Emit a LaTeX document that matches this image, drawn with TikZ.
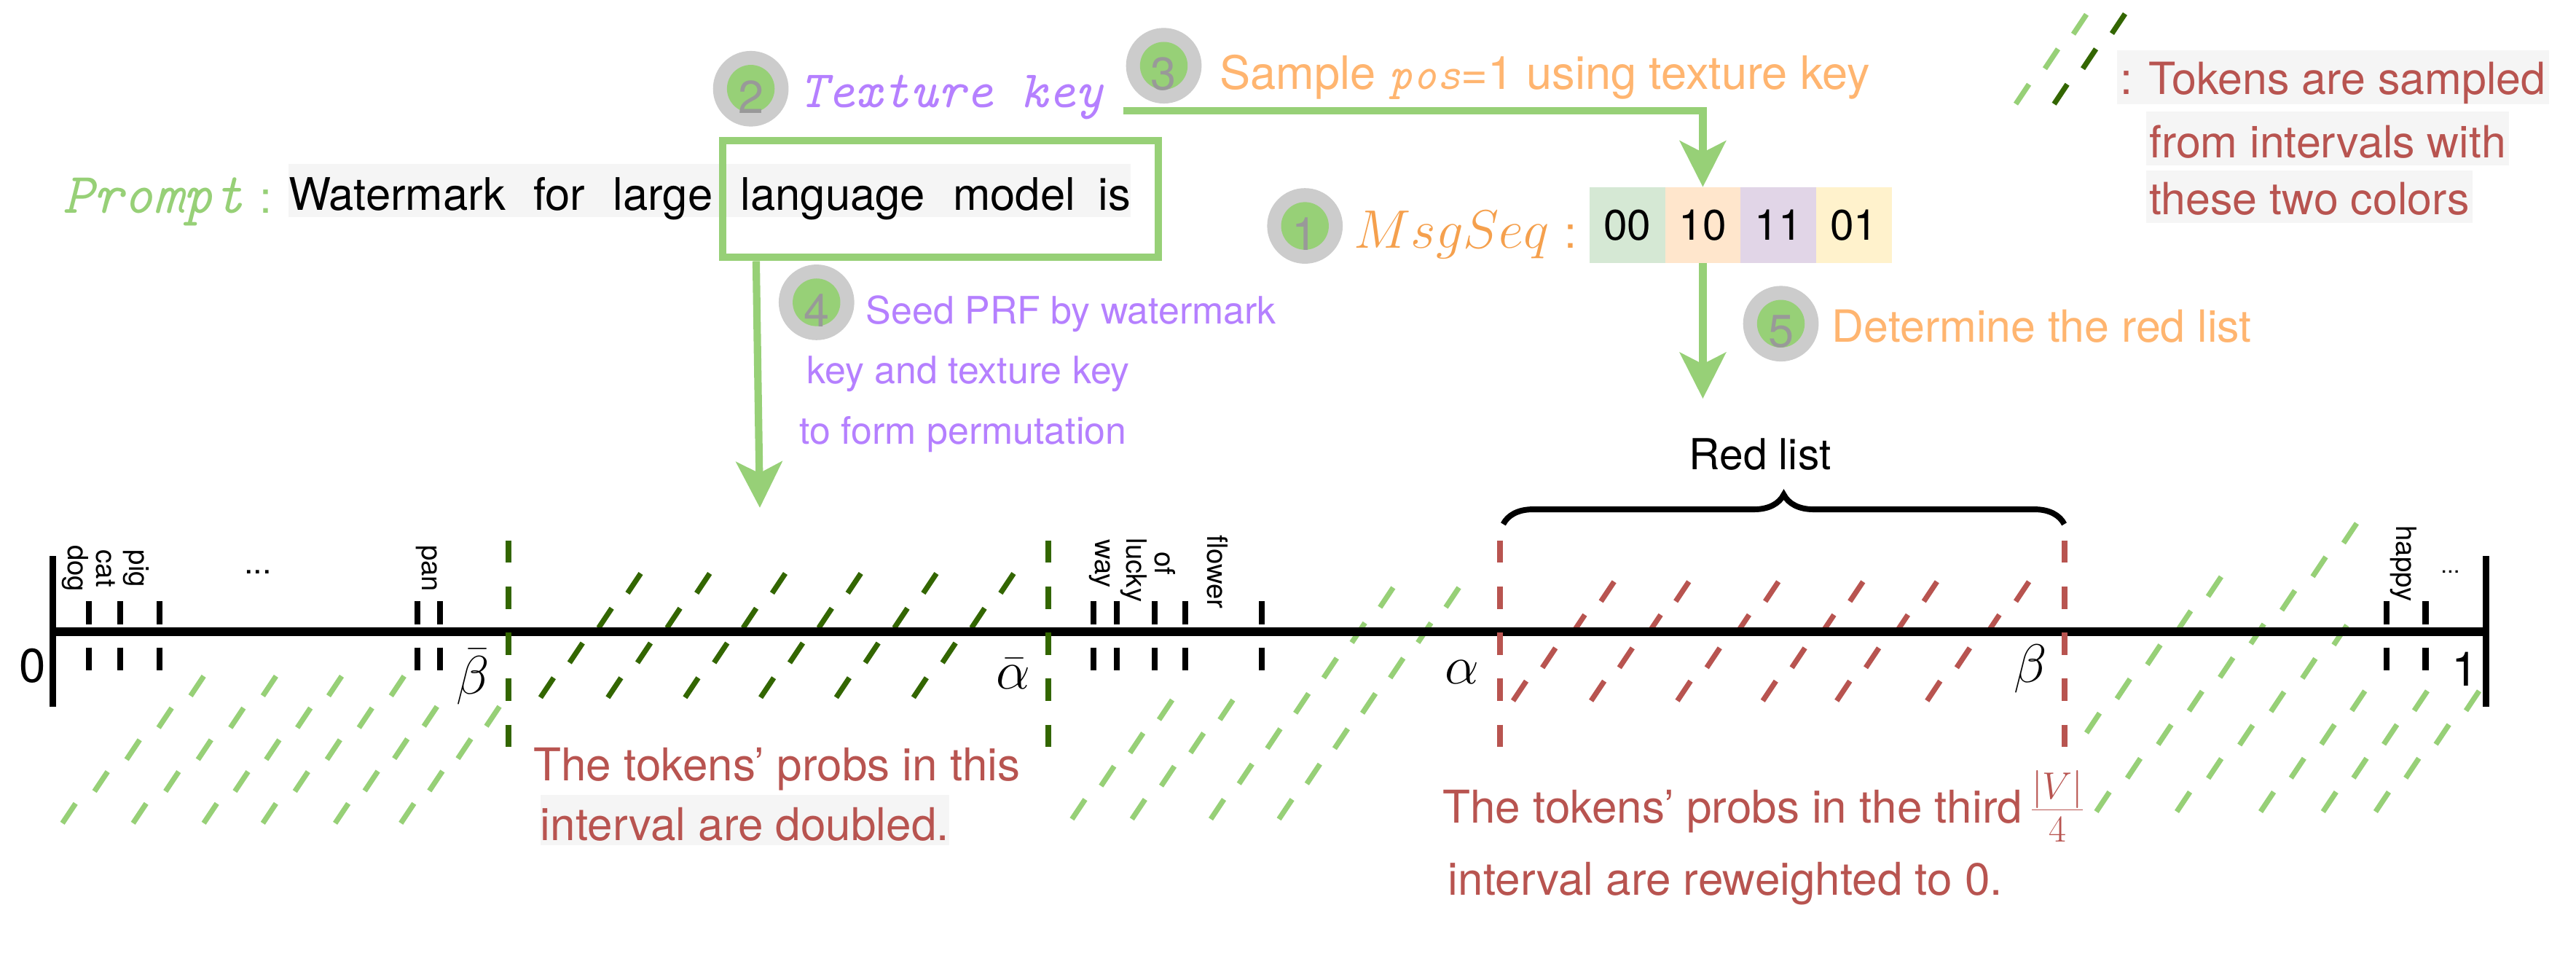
\RequirePackage{fix-cm}
\documentclass[tikz,border=0pt]{standalone}
\usepackage{fontspec}
\setmainfont{TeX Gyre Heros}
\usetikzlibrary{arrows.meta,decorations.pathreplacing,calc}
\definecolor{lgreen}{HTML}{97D077}
\definecolor{dgreen}{HTML}{336600}
\definecolor{rred}{HTML}{B85450}
\definecolor{orng}{HTML}{FFB570}
\definecolor{orngb}{HTML}{F5A04D}
\definecolor{purp}{HTML}{B580FF}
\definecolor{cgray}{HTML}{CCCCCC}
\definecolor{dgray}{HTML}{999999}
\definecolor{bggray}{HTML}{F5F5F5}
\definecolor{cza}{HTML}{D5E8D4}
\definecolor{czb}{HTML}{FFE6CC}
\definecolor{czc}{HTML}{E1D5E7}
\definecolor{czd}{HTML}{FFF2CC}
\newcommand{\fsz}[1]{\fontsize{#1}{#1}\selectfont}
\newcommand{\hatchln}[6]{%
  \foreach \k in {0,...,#6}{%
    \pgfmathsetmacro{\hatchX}{#2+(#4-#2)*\k/#6}%
    \pgfmathsetmacro{\hatchY}{#3+(#5-#3)*\k/#6}%
    \draw[hatchdash,draw=#1] (\hatchX-4,\hatchY+6) -- (\hatchX+4,\hatchY-6);
  }}
\newcommand{\stepmark}[3]{%
  \node[circle,fill=cgray,minimum size=46pt,inner sep=0pt] (#1) at (#2) {};
  \node[circle,fill=lgreen,minimum size=29pt,inner sep=0pt] (#1i) at (#1) {};
  \node[text=dgray,font=\fsz{28},inner sep=0pt] (#1n) at ($(#1)+(0,5)$) {#3};
}
\tikzset{
  hatchdash/.style={line width=3.2pt,line cap=butt},
  vdash/.style={line width=3.5pt,dash pattern=on 13.5pt off 14.5pt},
  tickmk/.style={line width=3.6pt},
  tok/.style={font=\fsz{17},inner sep=0pt,rotate=-90},
  arr/.style={draw=lgreen,line width=4.5pt,-{Stealth[length=28pt,width=28pt,inset=7pt]}},
  txt/.style={inner sep=0pt,anchor=base west},
  cell/.style={minimum width=46pt,minimum height=46pt,inner sep=0pt,font=\fsz{26}},
  greek/.style={font=\fsz{33},inner sep=0pt},
}
\begin{document}
\begin{tikzpicture}[x=1pt,y=-1pt]
\useasboundingbox (0,0) rectangle (1568,596);
\fill[white] (0,0) rectangle (1568,596);

% ---------- legend ----------
\draw[hatchdash,lgreen] (1266-4,14.8+6) -- (1266+4,14.8-6);
\draw[hatchdash,lgreen] (1248.7-4,35.8+6) -- (1248.7+4,35.8-6);
\draw[hatchdash,lgreen] (1231-4,57.3+6) -- (1231+4,57.3-6);
\draw[hatchdash,dgreen] (1289.5-4,14.4+6) -- (1289.5+4,14.4-6);
\draw[hatchdash,dgreen] (1271.8-4,35.8+6) -- (1271.8+4,35.8-6);
\draw[hatchdash,dgreen] (1254.3-4,57.3+6) -- (1254.3+4,57.3-6);
\node[txt,text=rred,font=\fsz{27},fill=bggray,inner xsep=2pt,text height=27pt,text depth=6pt] (lg1) at (1288.4,57.6) {: Tokens are sampled};
\node[txt,text=rred,font=\fsz{27},fill=bggray,inner xsep=2pt,text height=28pt,text depth=4.5pt] (lg2) at (1306,96) {from intervals with};
\node[txt,text=rred,font=\fsz{27},fill=bggray,inner xsep=2pt,text height=27pt,text depth=5pt] (lg3) at (1306,130.8) {these two colors};

% ---------- prompt ----------
\node[txt,text=lgreen,font=\fsz{35}\ttfamily\itshape] (pr) at (38,129.7) {Prompt};
\node[txt,text=lgreen,font=\fsz{27}] (prc) at (158,129.7) {:};
\node[txt,fill=bggray,font=\fsz{27.3},text height=28pt,text depth=4.5pt] (wm) at (175.4,127.8)
  {Watermark\hspace{17pt}for\hspace{17pt}large\hspace{17pt}language\hspace{17pt}model\hspace{14pt}is};
\node[draw=lgreen,line width=4.5pt,minimum width=265pt,minimum height=71pt,inner sep=0pt] (kbox) at (572.5,121.2) {};

% ---------- steps ----------
\stepmark{sc2}{457,54}{2}
\node[txt,text=purp,font=\fsz{32}\ttfamily\itshape] (tkey) at (486.6,65.5) {Texture key};
\stepmark{sc3}{708.4,40}{3}
\node[txt,text=orng,font=\fsz{28}] (s3t) at (742.3,54.5) {Sample {\ttfamily\itshape pos}=1 using texture key};
\stepmark{sc1}{794.3,137.5}{1}
\node[txt,text=orngb,font=\fsz{33}] (msg) at (824,150.8) {$MsgSeq$};
\node[txt,text=orngb,font=\fsz{27}] (msgc) at (952,150.8) {:};
\node[cell,fill=cza] (c00) at (990.5,137) {00};
\node[cell,fill=czb] (c10) at (1036.5,137) {10};
\node[cell,fill=czc] (c11) at (1082.5,137) {11};
\node[cell,fill=czd] (c01) at (1128.5,137) {01};
\stepmark{sc5}{1084,197}{5}
\node[txt,text=orng,font=\fsz{27}] (s5t) at (1115,208.4) {Determine the red list};
\stepmark{sc4}{497,184}{4}
\node[txt,text=purp,font=\fsz{23}] (s4a) at (527,197) {Seed PRF by watermark};
\node[txt,text=purp,font=\fsz{23}] (s4b) at (491,233.6) {key and texture key};
\node[txt,text=purp,font=\fsz{23}] (s4c) at (486.5,270.3) {to form permutation};

% arrows
\coordinate (hstart) at ($(tkey.base east)+(12,1.8)$);
\draw[arr] (hstart) -| (c10.north);
\coordinate (a5end) at (1036.5,242.6);
\draw[arr] (c10.south) -- (a5end);
\coordinate (a4start) at ($(kbox.south west)+(22.5,0)$);
\coordinate (a4end) at (462.5,309);
\draw[arr] (a4start) -- (a4end);

\node[txt,font=\fsz{26}] (rl) at (1028,286) {Red list};
\coordinate (brl) at (915,319);
\coordinate (brr) at (1256.5,319);
\draw[line width=3.5pt,decorate,decoration={brace,amplitude=18pt}] (brl) -- (brr);

% ---------- hatching ----------
\hatchln{lgreen}{42}{495}{120}{417.5}{4}
\hatchln{lgreen}{85}{495}{164}{417.5}{4}
\hatchln{lgreen}{128}{495}{204}{417.5}{4}
\hatchln{lgreen}{164}{495}{242}{417.5}{4}
\hatchln{lgreen}{208}{495}{262}{436}{3}
\hatchln{lgreen}{248}{495}{300}{436}{3}

\hatchln{dgreen}{333}{418.5}{386}{355}{3}
\hatchln{dgreen}{374}{418.5}{428}{355}{3}
\hatchln{dgreen}{421}{418.5}{474}{355}{3}
\hatchln{dgreen}{467}{418.5}{520}{355}{3}
\hatchln{dgreen}{513}{418.5}{566}{355}{3}
\hatchln{dgreen}{560}{418.5}{613}{355}{3}

\hatchln{lgreen}{656.5}{492.5}{709.5}{432}{3}
\hatchln{lgreen}{693}{492.5}{746.5}{432}{3}
\hatchln{lgreen}{741}{492.5}{844}{363.6}{6}
\hatchln{lgreen}{782.5}{492.5}{884}{363.6}{6}

\hatchln{rred}{925}{420.5}{978.5}{360}{3}
\hatchln{rred}{972.5}{420.5}{1024}{360}{3}
\hatchln{rred}{1025}{420.5}{1078.5}{360}{3}
\hatchln{rred}{1077}{420.5}{1130}{360}{3}
\hatchln{rred}{1122}{420.5}{1175}{360}{3}
\hatchln{rred}{1177}{420.5}{1231}{360}{3}

\hatchln{lgreen}{1274}{440}{1348}{357}{4}
\hatchln{lgreen}{1280}{488}{1430.5}{324.5}{8}
\hatchln{lgreen}{1329}{488}{1424.5}{386.5}{5}
\hatchln{lgreen}{1380}{488}{1435.5}{426.5}{3}
\hatchln{lgreen}{1418}{488}{1473.5}{426.5}{3}
\hatchln{lgreen}{1450}{488}{1505}{426.5}{3}

% ---------- number line ----------
\coordinate (n0) at (32,384.5);
\coordinate (n1) at (1513,384.5);
\draw[line width=5pt] (n0) -- (n1);
\draw[line width=4pt] (32,338.5) -- (32,430);
\draw[line width=4pt] (1513,338.5) -- (1513,430);
\node[font=\fsz{29},inner sep=0pt] (zero) at (20,405) {0};
\node[font=\fsz{29},inner sep=0pt] (one) at (1500.6,407) {1};

\foreach \x in {54,73,97,254,268,665.6,679.8,702.9,721.5,768,1452.7,1476.4}{
  \draw[tickmk] (\x,365.8) -- (\x,380);
  \draw[tickmk] (\x,394) -- (\x,408);
}
\node[tok] (tdog) at (46,346) {dog};
\node[tok] (tcat) at (64.5,346) {cat};
\node[tok] (tpig) at (83,346) {pig};
\node[tok] (tpan) at (259.6,346) {pan};
\node[tok] (tway) at (669.6,343) {way};
\node[tok] (tlucky) at (690,347) {lucky};
\node[tok] (tof) at (709,343) {of};
\node[tok] (tflower) at (741,348) {flower};
\node[tok] (thappy) at (1463,343) {happy};
\node[font=\fsz{20},inner sep=0pt] (dotsl) at (157,348) {...};
\node[font=\fsz{14},inner sep=0pt] (dotsr) at (1491.5,348) {...};

\draw[vdash,dgreen] (309.5,329) -- (309.5,455);
\draw[vdash,dgreen] (638,329) -- (638,455);
\draw[vdash,rred] (913,329) -- (913,455);
\draw[vdash,rred] (1256.5,329) -- (1256.5,455);

\node[greek] (bbar) at (288,412) {$\bar\beta$};
\node[greek] (abar) at (616.6,410) {$\bar\alpha$};
\node[greek] (alp) at (890,409) {$\alpha$};
\node[greek] (bet) at (1236,407) {$\beta$};

% ---------- bottom texts ----------
\node[txt,text=rred,font=\fsz{27.5}] (bl1) at (324.5,475.2) {The tokens' probs in this};
\node[txt,text=rred,font=\fsz{27.5},fill=bggray,text height=27.4pt,text depth=3pt] (bl2) at (328.8,511.4) {interval are doubled.};
\node[txt,text=rred,font=\fsz{27.5}] (br1) at (878,501) {The tokens' probs in the third\,{\fsz{33}$\frac{|V|}{4}$}};
\node[txt,text=rred,font=\fsz{27.5}] (br2) at (881.3,544.7) {interval are reweighted to 0.};
\end{tikzpicture}
\end{document}
